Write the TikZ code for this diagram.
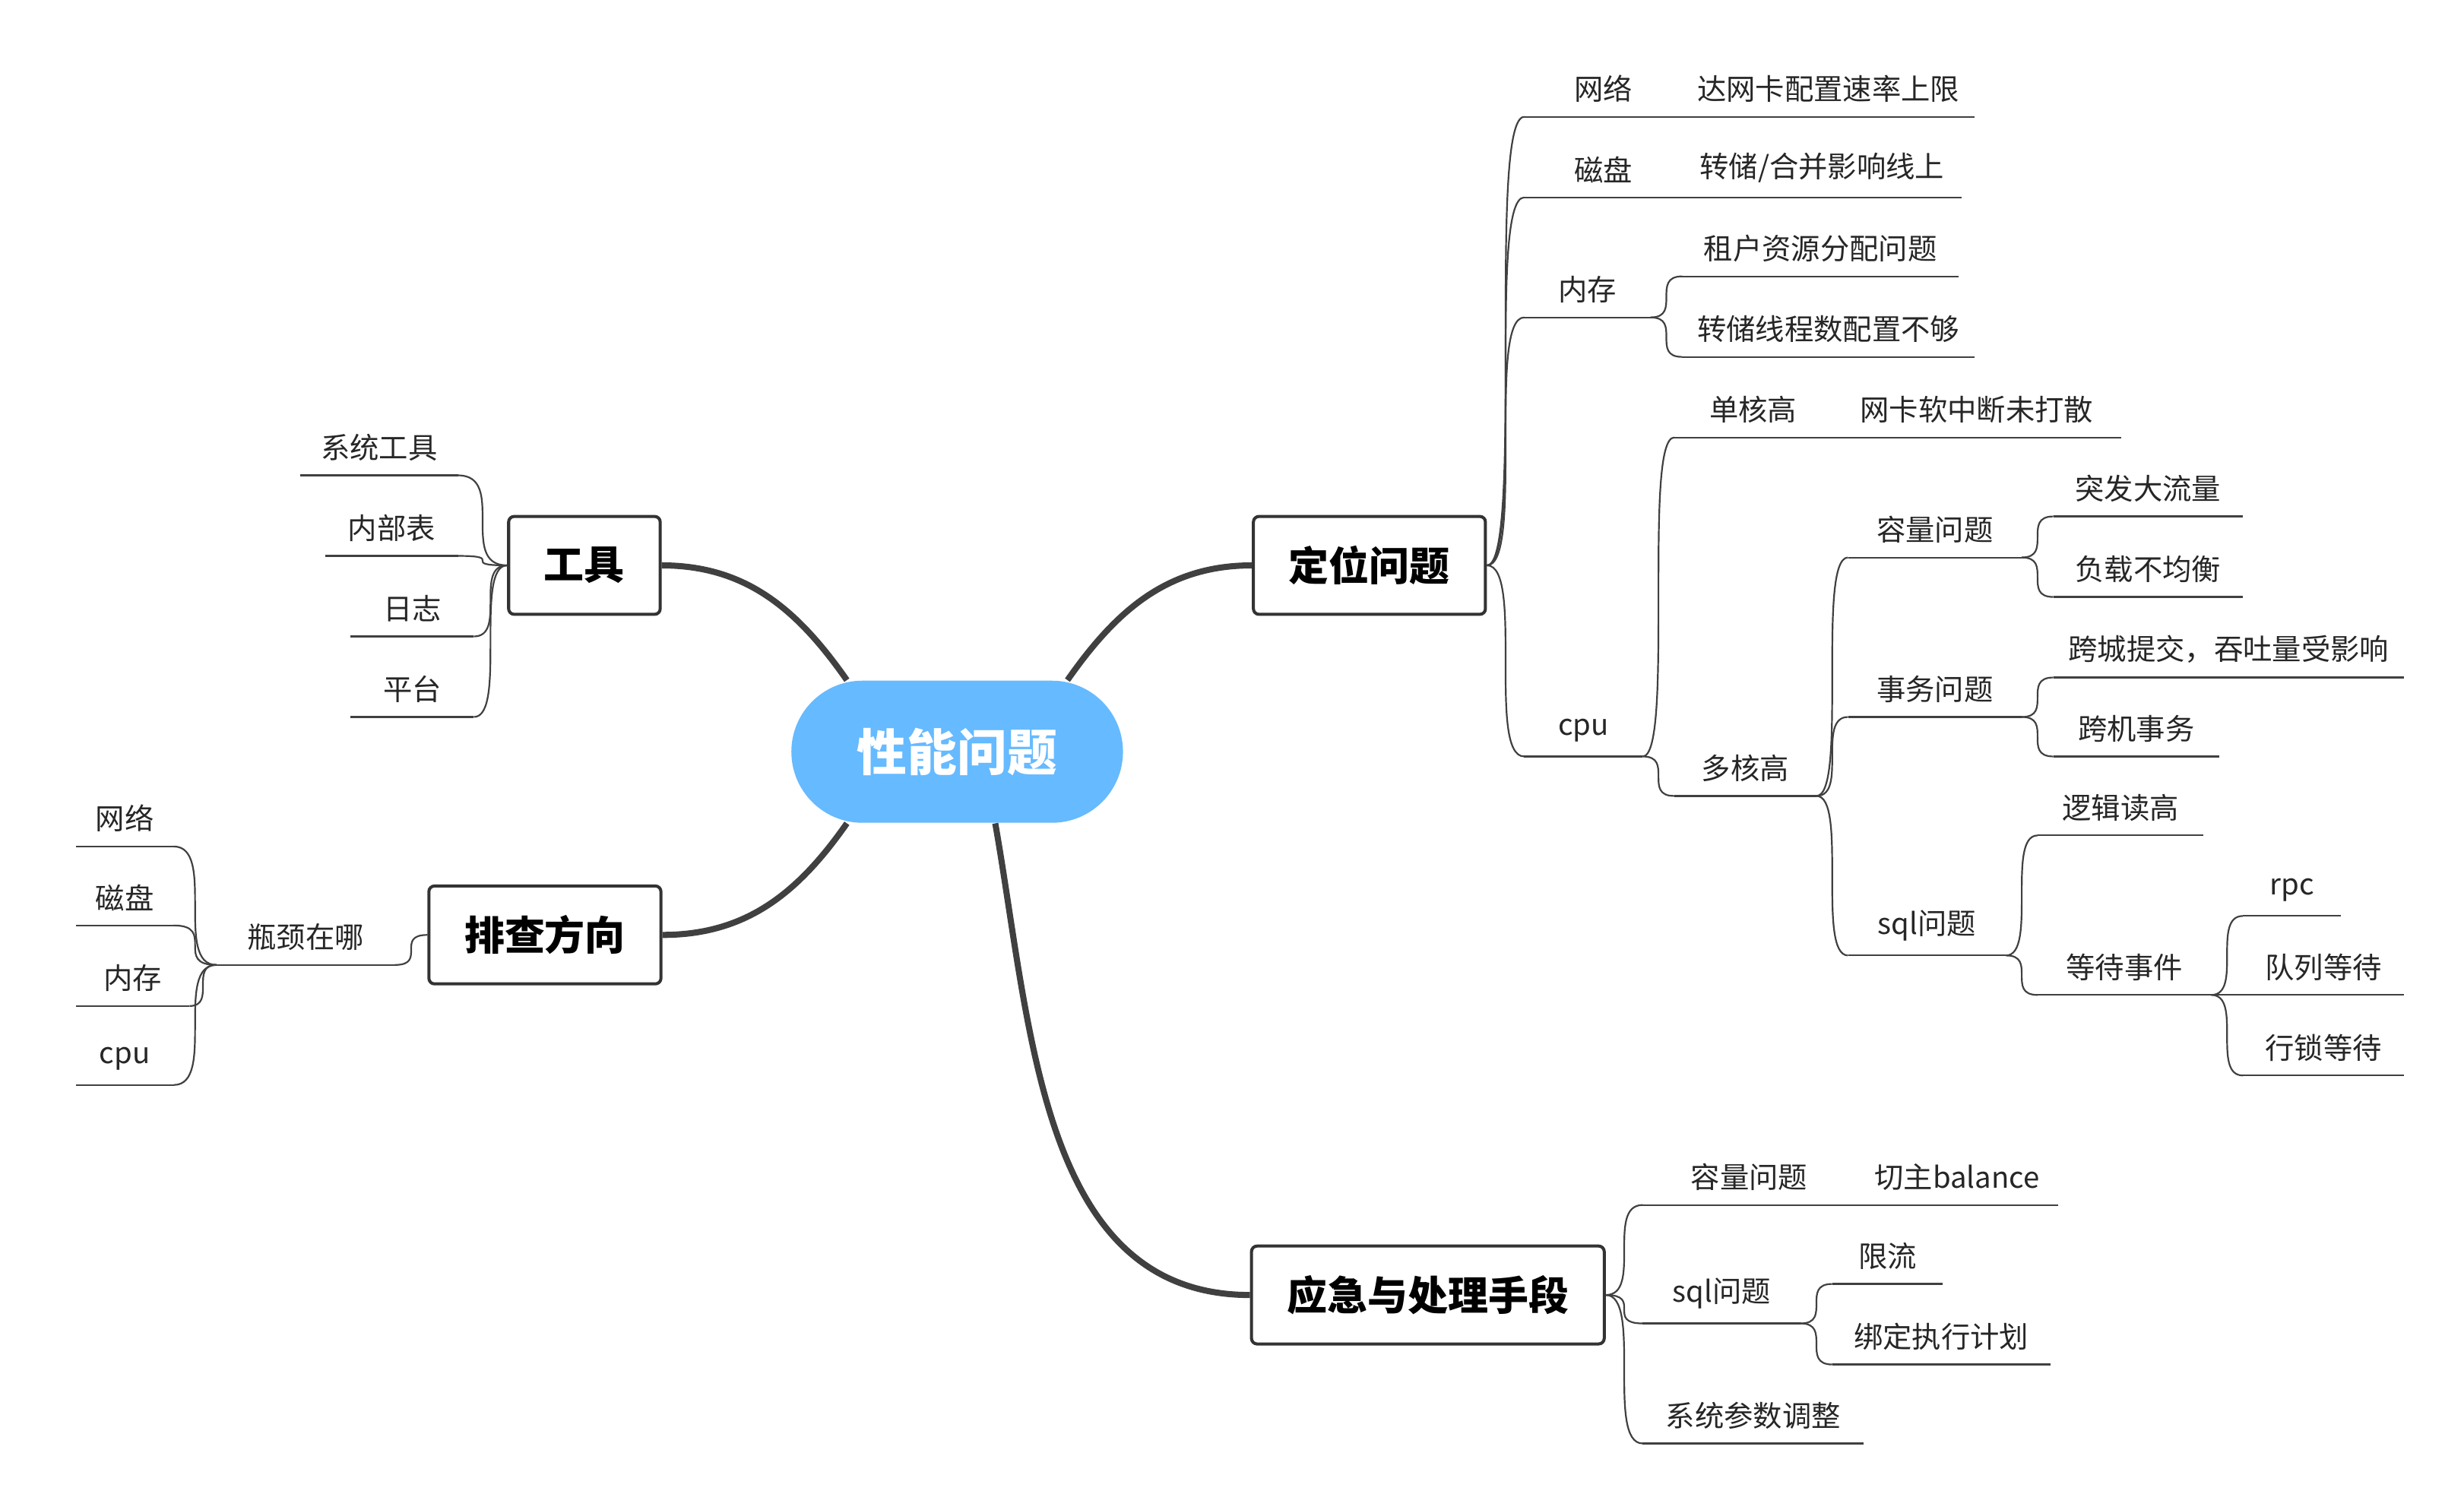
\documentclass[tikz,border=0pt]{standalone}
\usepackage{fontspec}
\setmainfont{Noto Sans CJK SC}
\usetikzlibrary{positioning}

% underlined topic: name, left x, right x, line y, text
\newcommand\topic[5]{%
  \coordinate (#1-l) at (#2,#4);
  \coordinate (#1-r) at (#3,#4);
  \node[leaf] (#1) at ({(#2+#3)/2},#4) {#5};
  \draw[uline] (#1-l) -- (#1-r);}
% thin branch from node to node
\newcommand\branch[2]{\draw[conn] (#1) .. controls (#2 |- #1) and (#1 |- #2) .. (#2);}

\begin{document}
\begin{tikzpicture}[
    x=0.02cm, y=-0.02cm,
    core/.style={rectangle, rounded corners=0.9cm, fill=blue!45!cyan!60!white, minimum width=4.2cm, minimum height=1.8cm, text=white, font=\fontsize{18}{20}\selectfont\bfseries},
    mainbox/.style={rectangle, rounded corners=2pt, draw=black!80, line width=1.1pt, fill=white, minimum height=1.24cm, inner xsep=0.45cm, font=\fontsize{14.5}{16}\selectfont\bfseries},
    leaf/.style={anchor=south, inner sep=0pt, yshift=5pt, font=\fontsize{10.5}{12}\selectfont, text=black!85},
    uline/.style={draw=black!75, line width=0.6pt},
    conn/.style={draw=black!75, line width=0.6pt},
    trunk/.style={draw=black!75, line width=2.2pt}
]
\useasboundingbox (0,0) rectangle (1560,946);

% === Centre and main topics ===
\node[core] (root) at (606,476) {性能问题};
\node[mainbox] (tools) at (370,358) {工具};
\node[mainbox] (check) at (345,592) {排查方向};
\node[mainbox] (locate) at (867,358) {定位问题};
\node[mainbox] (urgent) at (904,820) {应急与处理手段};

\draw[trunk] (root.147) to[out=125,in=0] (tools.east);
\draw[trunk] (root.213) to[out=235,in=0] (check.east);
\draw[trunk] (root.33) to[out=55,in=180] (locate.west);
\draw[trunk] (root.-62) to[out=-80,in=180] (urgent.west);

% === 工具 ===
\topic{t1}{190}{290}{301}{系统工具}
\topic{t2}{206}{290}{352}{内部表}
\topic{t3}{222}{300}{403}{日志}
\topic{t4}{222}{300}{454}{平台}
\foreach \n in {t1,t2,t3,t4} {\branch{tools.west}{\n-r}}

% === 排查方向 ===
\topic{b0}{137}{250}{611}{瓶颈在哪}
\topic{b1}{48}{110}{536}{网络}
\topic{b2}{48}{110}{586}{磁盘}
\topic{b3}{48}{120}{637}{内存}
\topic{b4}{48}{110}{687}{cpu}
\branch{check.west}{b0-r}
\foreach \n in {b1,b2,b3,b4} {\branch{b0-l}{\n-r}}

% === 定位问题 ===
\topic{n1}{965}{1065}{74}{网络}
\topic{n1a}{1065}{1250}{74}{达网卡配置速率上限}
\topic{n2}{965}{1065}{125}{磁盘}
\topic{n2a}{1065}{1242}{125}{转储/合并影响线上}
\topic{n3}{965}{1045}{201}{内存}
\topic{n3a}{1065}{1240}{175}{租户资源分配问题}
\topic{n3b}{1065}{1250}{226}{转储线程数配置不够}
\topic{n4}{965}{1040}{479}{cpu}
\topic{n4a}{1060}{1160}{277}{单核高}
\topic{n4a1}{1160}{1343}{277}{网卡软中断未打散}
\topic{n4b}{1060}{1150}{504}{多核高}
\topic{c1}{1170}{1280}{353}{容量问题}
\topic{c1a}{1300}{1420}{327}{突发大流量}
\topic{c1b}{1300}{1420}{378}{负载不均衡}
\topic{c2}{1170}{1280}{454}{事务问题}
\topic{c2a}{1300}{1522}{429}{跨城提交，吞吐量受影响}
\topic{c2b}{1300}{1405}{479}{跨机事务}
\topic{c3}{1170}{1270}{605}{sql问题}
\topic{c3a}{1290}{1395}{529}{逻辑读高}
\topic{c3b}{1290}{1400}{630}{等待事件}
\topic{w1}{1420}{1482}{580}{rpc}
\topic{w2}{1420}{1522}{630}{队列等待}
\topic{w3}{1420}{1522}{681}{行锁等待}
\foreach \n in {n1,n2,n3,n4} {\branch{locate.east}{\n-l}}
\branch{n3-r}{n3a-l}
\branch{n3-r}{n3b-l}
\branch{n4-r}{n4a-l}
\branch{n4-r}{n4b-l}
\foreach \n in {c1,c2,c3} {\branch{n4b-r}{\n-l}}
\branch{c1-r}{c1a-l}
\branch{c1-r}{c1b-l}
\branch{c2-r}{c2a-l}
\branch{c2-r}{c2b-l}
\branch{c3-r}{c3a-l}
\branch{c3-r}{c3b-l}
\foreach \n in {w1,w2,w3} {\branch{c3b-r}{\n-l}}

% === 应急与处理手段 ===
\topic{e1}{1040}{1175}{763}{容量问题}
\topic{e1a}{1175}{1303}{763}{切主balance}
\topic{e2}{1040}{1140}{838}{sql问题}
\topic{e2a}{1160}{1230}{813}{限流}
\topic{e2b}{1160}{1298}{864}{绑定执行计划}
\topic{e3}{1040}{1180}{914}{系统参数调整}
\foreach \n in {e1,e2,e3} {\branch{urgent.east}{\n-l}}
\branch{e2-r}{e2a-l}
\branch{e2-r}{e2b-l}

\end{tikzpicture}
\end{document}
